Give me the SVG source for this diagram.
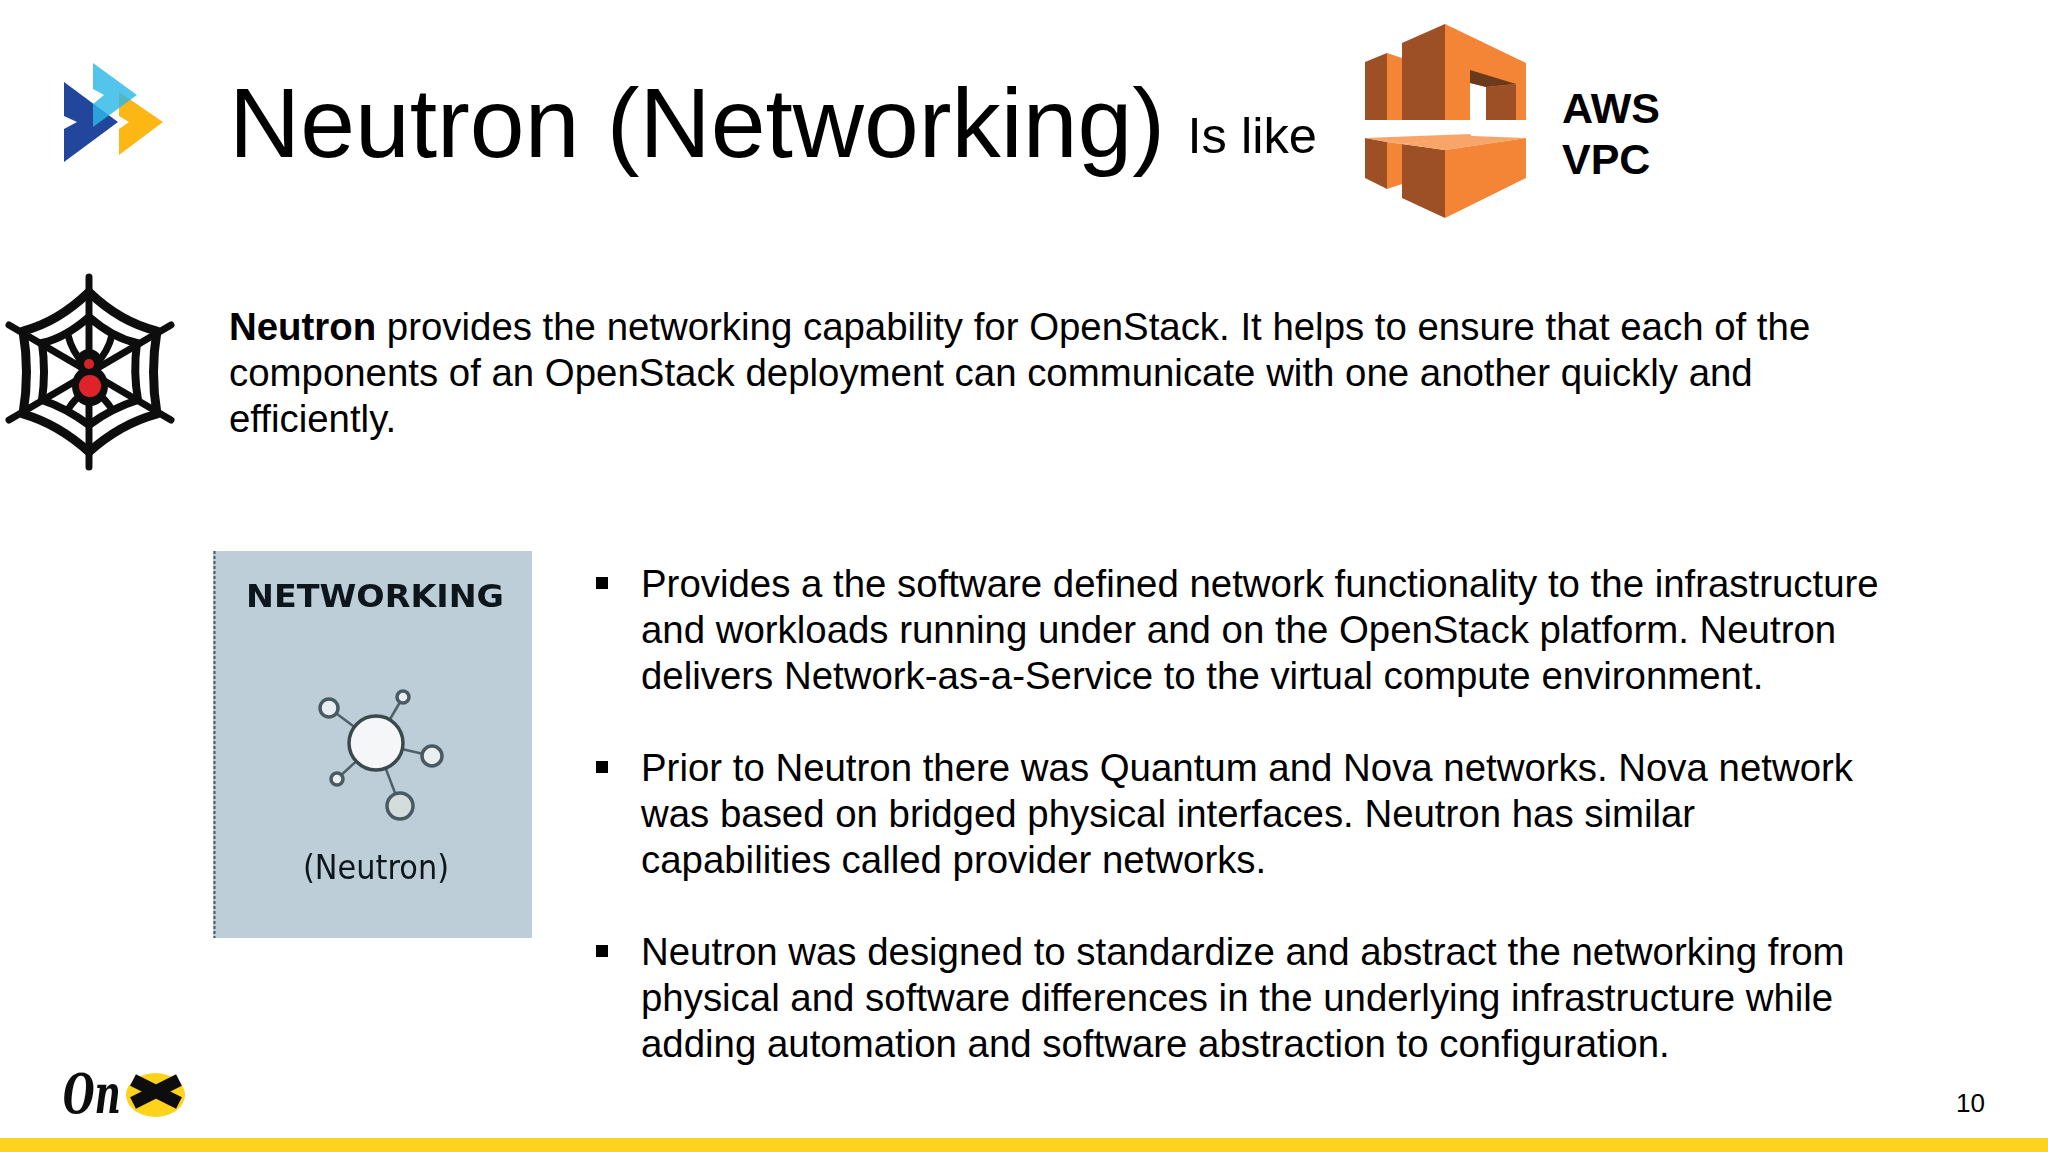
<svg xmlns="http://www.w3.org/2000/svg" width="2048" height="1152" viewBox="0 0 2048 1152">
<defs>
<filter id="soft" x="-5%" y="-5%" width="110%" height="110%"><feGaussianBlur stdDeviation="0.7"/></filter>
</defs>
<style>
.t{font-family:"Liberation Sans",Arial,sans-serif;fill:#000}
.b{font-size:38.4px}
.web{fill:none;stroke:#111;stroke-linecap:round;stroke-linejoin:round}
.sat{fill:#e8eef2;stroke:#4a5a62;stroke-width:3.5}
</style>
<rect width="2048" height="1152" fill="#fff"/>
<g id="logo">
<polygon points="64,82 118,122 64,162 64,129 77,122 64,116" fill="#21469c"/>
<polygon points="119,92 163,122 119,155 119,129 129,122 119,116" fill="#fdb714"/>
<polygon points="93,63 137,95 93,127 93,104 104,95 93,89" fill="#2db7e6" fill-opacity=".82"/>
</g>
<g id="title">
<text class="t" x="229" y="157" font-size="98.500">Neutron (Networking)</text>
<text class="t" x="1187.500" y="152.500" font-size="50.600">Is like</text>
</g>
<g id="aws-vpc">
<polygon points="1365,62 1387,53 1387,120 1365,120" fill="#9d5025"/>
<polygon points="1387,53 1402,58 1402,120 1387,120" fill="#f58536"/>
<polygon points="1402,43 1445,24 1445,120 1402,120" fill="#9d5025"/>
<path d="M1445,24 L1526,63 V120 H1486 V87 L1470,83 V120 H1445 Z" fill="#f58536"/>
<polygon points="1470,70 1516,84 1486,87 1470,83" fill="#6b3a1a"/>
<polygon points="1486,87 1516,84 1516,120 1486,120" fill="#9d5025"/>
<polygon points="1365,138 1387,142 1387,189 1365,178" fill="#9d5025"/>
<polygon points="1387,142 1402,144 1402,184 1387,189" fill="#f58536"/>
<polygon points="1365,138 1470,134 1472,137 1402,144 1387,142" fill="#f9a56a"/>
<polygon points="1402,144 1445,150 1445,218 1402,198" fill="#9d5025"/>
<polygon points="1445,150 1526,138 1526,178 1445,218" fill="#f58536"/>
<polygon points="1402,144 1472,136 1526,138 1445,150" fill="#f9a56a"/>
<text class="t" x="1562" y="123" font-size="43" font-weight="700">AWS</text>
<text class="t" x="1562" y="174" font-size="43" font-weight="700">VPC</text>
</g>
<g id="spider-web" filter="url(#soft)">
<g class="web">
<path d="M89,277 V467 M9,325 L171,420 M171,325 L9,420" stroke-width="7"/>
<path d="M89,292 Q120,322 157,331 Q150,372 157,414 Q120,424 89,452 Q58,424 23,414 Q30,372 23,331 Q58,322 89,292 Z" stroke-width="9"/>
<path d="M89,317 Q113,338 137,343 Q133,372 138,400 Q112,408 89,425 Q66,408 42,400 Q46,372 42,343 Q65,338 89,317 Z" stroke-width="8"/>
<path d="M68,335 Q72,352 84,364 M112,335 Q108,352 96,364 M84,392 Q74,400 69,408 M96,392 Q106,400 111,408" stroke-width="7"/>
</g>
<circle cx="89" cy="362" r="13" fill="#111"/>
<ellipse cx="90" cy="386" rx="18" ry="20" fill="#111"/>
<circle cx="89" cy="364" r="5" fill="#d8242c"/>
<circle cx="90" cy="386" r="11" fill="#e0242c"/>
</g>
<g id="intro">
<text class="t b" x="229" y="339.700"><tspan font-weight="700">Neutron</tspan> provides the networking capability for OpenStack. It helps to ensure that each of the</text>
<text class="t b" x="229" y="385.700">components of an OpenStack deployment can communicate with one another quickly and</text>
<text class="t b" x="229" y="431.700">efficiently.</text>
</g>
<g id="networking-card" filter="url(#soft)">
<rect x="213" y="551" width="319" height="387" fill="#bdced8"/>
<line x1="214.500" y1="551" x2="214.500" y2="938" stroke="#4a5a62" stroke-width="2" stroke-dasharray="3 2"/>
<text x="375" y="607" text-anchor="middle" font-family="DejaVu Sans,sans-serif" font-weight="700" font-size="32" fill="#10181e" textLength="258" lengthAdjust="spacingAndGlyphs">NETWORKING</text>
<g stroke="#4f6068" stroke-width="2.500">
<line x1="376" y1="743" x2="329" y2="708"/>
<line x1="376" y1="743" x2="403" y2="697"/>
<line x1="376" y1="743" x2="432" y2="756"/>
<line x1="376" y1="743" x2="337" y2="779"/>
<line x1="376" y1="743" x2="400" y2="806"/>
</g>
<circle cx="376" cy="743" r="27" fill="#f4f6f7" stroke="#3a4a50" stroke-width="3.500"/>
<circle class="sat" cx="329" cy="708" r="9"/>
<circle class="sat" cx="403" cy="697" r="6"/>
<circle class="sat" cx="432" cy="756" r="10"/>
<circle class="sat" cx="337" cy="779" r="6"/>
<circle class="sat" cx="400" cy="806" r="13" style="fill:#d5dcdc"/>
<text x="376" y="879" text-anchor="middle" font-family="DejaVu Sans,sans-serif" font-size="33" fill="#10181e" textLength="146" lengthAdjust="spacingAndGlyphs">(Neutron)</text>
</g>
<g id="bullets">
<rect x="596" y="577" width="12" height="12" fill="#000"/>
<text class="t b" x="641" y="596.700">Provides a the software defined network functionality to the infrastructure</text>
<text class="t b" x="641" y="642.700">and workloads running under and on the OpenStack platform. Neutron</text>
<text class="t b" x="641" y="688.700">delivers Network-as-a-Service to the virtual compute environment.</text>
<rect x="596" y="761" width="12" height="12" fill="#000"/>
<text class="t b" x="641" y="780.700">Prior to Neutron there was Quantum and Nova networks. Nova network</text>
<text class="t b" x="641" y="826.700">was based on bridged physical interfaces. Neutron has similar</text>
<text class="t b" x="641" y="872.700">capabilities called provider networks.</text>
<rect x="596" y="945" width="12" height="12" fill="#000"/>
<text class="t b" x="641" y="964.700">Neutron was designed to standardize and abstract the networking from</text>
<text class="t b" x="641" y="1010.700">physical and software differences in the underlying infrastructure while</text>
<text class="t b" x="641" y="1056.700">adding automation and software abstraction to configuration.</text>
</g>
<g id="onx" filter="url(#soft)">
<text x="63" y="1113" font-family="DejaVu Serif,serif" font-weight="700" font-style="italic" font-size="54" fill="#111" textLength="58" lengthAdjust="spacingAndGlyphs">On</text>
<ellipse cx="155.500" cy="1095" rx="29.500" ry="22" fill="#fdd31f"/>
<path d="M133,1080 L179,1103 M179,1080 L133,1103" stroke="#111" stroke-width="13" fill="none"/>
</g>
<g id="footer">
<rect y="1138" width="2048" height="14" fill="#fdd31f"/>
<text class="t" x="1956" y="1112" font-size="26" fill="#222">10</text>
</g>
</svg>
